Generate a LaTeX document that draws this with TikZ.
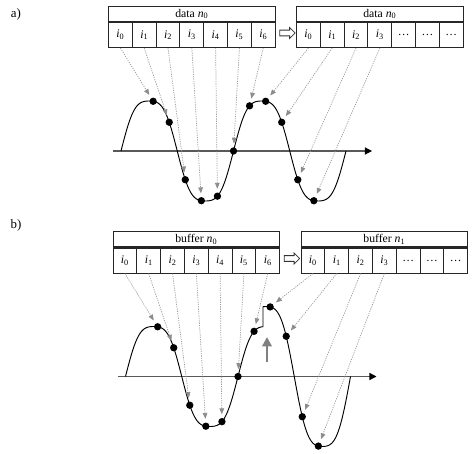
\documentclass[tikz,border=0pt]{standalone}
\usepackage{fontspec}
\setmainfont{Liberation Serif}
\usetikzlibrary{arrows.meta,positioning,shapes.arrows}

\newcommand{\ix}[1]{\textit{i}\textsubscript{#1}}
\newcommand{\nx}[1]{\textit{n}\textsubscript{#1}}
\pgfmathdeclarefunction{wv}{1}{%
  \pgfmathparse{1.4*sin(#1)-0.4*sin(#1)*sin(#1)*sin(#1)}}

\begin{document}
\begin{tikzpicture}[x=0.03cm,y=-0.03cm,
  lbl/.style={font=\fontsize{11}{13}\selectfont},
  cellbox/.style={draw=black!85,line width=0.9pt,minimum width=0.714cm,minimum height=0.75cm,
    inner sep=0pt,anchor=north west,font=\fontsize{10}{12}\selectfont},
  headbox/.style={draw=black!85,line width=0.9pt,minimum width=4.998cm,minimum height=0.45cm,
    inner sep=0pt,anchor=south west,font=\fontsize{10}{12}\selectfont},
  sampdot/.style={circle,fill=black,inner sep=0pt,minimum size=0.22cm},
  samparrow/.style={draw=black!40,line width=0.6pt,dash pattern=on 1pt off 1pt,
    -{Triangle[length=5pt,width=4pt,color=black!45]},shorten >=3pt},
  axisline/.style={draw=black!65,line width=1pt,-{Triangle[length=6pt,width=6pt,color=black]}},
  waveline/.style={draw=black,line width=0.8pt},
  bufarrow/.style={single arrow,draw=black!80,line width=0.7pt,minimum height=0.46cm,
    inner xsep=0pt,inner ysep=2.1pt,single arrow head extend=2.2pt},
  jumparrow/.style={draw=black!50,line width=2.4pt,-{Triangle[length=8pt,width=8pt]}}
]
\useasboundingbox (0,0) rectangle (474,454);

% a) one sine sampled into two data blocks
\node[lbl] (labA) at (16,14) {a)};
\node[headbox] (aLh) at (108,22) {data \nx{0}};
\node[headbox] (aRh) at (296,22) {data \nx{0}};
\foreach \k in {0,...,6}
  \node[cellbox] (aL\k) at ({108+23.8*\k},22) {\ix{\k}};
\foreach \k in {0,...,3}
  \node[cellbox] (aR\k) at ({296+23.8*\k},22) {\ix{\k}};
\foreach \k in {4,5,6}
  \node[cellbox] (aR\k) at ({296+23.8*\k},22) {\dots};
\node[bufarrow] (aA) at (286,33) {};
\coordinate (aX0) at (113,151);
\coordinate (aX1) at (372,151);
\draw[axisline] (aX0) -- (aX1);
\draw[waveline] plot[domain=0:720,samples=361] ({121+0.3125*\x},{151-50*wv(\x)});
\foreach \k in {0,...,10}
  \node[sampdot] (aD\k) at ({121+112.5*(\k+2)/7},{151-50*wv(360*(\k+2)/7)}) {};
\foreach \k in {0,...,6}
  \draw[samparrow] (aL\k.south) -- (aD\k);
\foreach \k in {0,...,3} {
  \pgfmathtruncatemacro{\j}{\k+7}
  \draw[samparrow] (aR\k.south) -- (aD\j);
}

% b) same, with a jump between the buffers
\node[lbl] (labB) at (16,225) {b)};
\begin{scope}[shift={(4.5,225.5)}]
\node[headbox] (bLh) at (108,22) {buffer \nx{0}};
\node[headbox] (bRh) at (296,22) {buffer \nx{1}};
\foreach \k in {0,...,6}
  \node[cellbox] (bL\k) at ({108+23.8*\k},22) {\ix{\k}};
\foreach \k in {0,...,3}
  \node[cellbox] (bR\k) at ({296+23.8*\k},22) {\ix{\k}};
\foreach \k in {4,5,6}
  \node[cellbox] (bR\k) at ({296+23.8*\k},22) {\dots};
\node[bufarrow] (bA) at (286,33) {};
\coordinate (bX0) at (113,151);
\coordinate (bX1) at (372,151);
\draw[axisline] (bX0) -- (bX1);
\draw[waveline] plot[domain=0:440,samples=221] ({121+0.3125*\x},{151-50*wv(\x)})
  -- plot[domain=440:720,samples=141] ({121+0.3125*\x},{151-70*wv(\x)});
\foreach \k in {0,...,10} {
  \pgfmathsetmacro{\amp}{ifthenelse(\k<7,50,70)}
  \node[sampdot] (bD\k) at ({121+112.5*(\k+2)/7},{151-\amp*wv(360*(\k+2)/7)}) {};
}
\foreach \k in {0,...,6}
  \draw[samparrow] (bL\k.south) -- (bD\k);
\foreach \k in {0,...,3} {
  \pgfmathtruncatemacro{\j}{\k+7}
  \draw[samparrow] (bR\k.south) -- (bD\j);
}
\coordinate (bU0) at (262.5,136.5);
\coordinate (bU1) at (262.5,111.5);
\draw[jumparrow] (bU0) -- (bU1);
\end{scope}
\end{tikzpicture}
\end{document}
